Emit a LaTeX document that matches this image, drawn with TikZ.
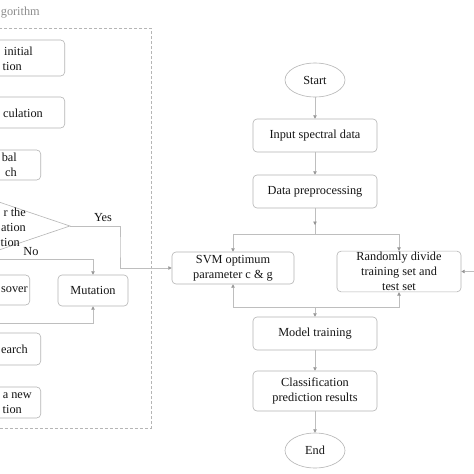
\documentclass[tikz,border=0pt]{standalone}
\usepackage{fontspec}
\setmainfont{Liberation Serif}
\usepackage{xcolor}
\definecolor{ink}      {HTML}{141414}
\definecolor{boxGray}  {HTML}{B5B5B5}
\definecolor{lineGray} {HTML}{BEBEBE}
\definecolor{tipGray}  {HTML}{969696}
\definecolor{titleGray}{HTML}{8C8C8C}
\usetikzlibrary{arrows.meta, shapes.geometric}
\newcommand{\boxfont}{\fontsize{12.3}{15}\selectfont}
\tikzset{
    procbox/.style={rectangle, draw=boxGray, line width=0.6pt, rounded corners=4pt,
                    minimum width=124pt, minimum height=33pt, inner sep=1pt,
                    align=center, font=\boxfont, text=ink},
    cutbox/.style={rectangle, draw=boxGray, line width=0.6pt, rounded corners=4pt,
                   anchor=east, minimum width=120pt, inner sep=0pt},
    cuttext/.style={anchor=east, align=right, inner sep=0pt, font=\boxfont, text=ink},
    terminal/.style={ellipse, draw=boxGray, line width=0.6pt, minimum width=60pt,
                     minimum height=34pt, inner sep=0pt, font=\boxfont, text=ink},
    decision/.style={diamond, draw=boxGray, line width=0.6pt, minimum width=180pt,
                     minimum height=61pt, inner sep=0pt},
    tag/.style={inner sep=0pt, font=\boxfont, text=ink},
    flow/.style={draw=lineGray, line width=0.6pt},
    arr/.style={flow, -{Triangle[length=3.4pt, width=3.4pt, color=tipGray]}},
    algframe/.style={draw=boxGray, line width=0.6pt, dash pattern=on 2.6pt off 2.4pt},
}

\begin{document}
\begin{tikzpicture}[x=1pt, y=-1pt]
    \clip (0,0) rectangle (474,474);
    \fill[white] (0,0) rectangle (474,474);

    % left part: the algorithm, cut at the page edge
    \node[inner sep=0pt, anchor=east, font=\boxfont, text=titleGray] (algTitle) at (40,13) {gorithm};
    \draw[algframe] (-5,28) rectangle (151,428);

    \node[cutbox, minimum height=36pt] (init) at (65,58) {};
    \node[cuttext] (initText) at (33,58.5) {initial\\tion\hspace*{11pt}};
    \node[cutbox, minimum height=31pt] (fit) at (65,112.5) {};
    \node[cuttext] (fitText) at (43,113) {culation};
    \node[cutbox, minimum height=30pt] (glob) at (41,165) {};
    \node[cuttext] (globText) at (17,164.5) {bal\\ch};
    \node[decision] (dia) at (-20,226) {};
    \node[cuttext] (diaText) at (26,227) {r the\\ation\\tion\hspace*{6pt}};
    \node[cutbox, minimum height=30pt] (cross) at (30,290) {};
    \node[cuttext] (crossText) at (28,290) {sover};
    \node[procbox, minimum width=70pt, minimum height=31pt] (mut) at (93,290.5) {Mutation};
    \node[cutbox, minimum height=32pt] (loc) at (41,349) {};
    \node[cuttext] (locText) at (28,349) {earch};
    \node[cutbox, minimum height=31pt] (newpop) at (41,402.5) {};
    \node[cuttext] (newpopText) at (32,403.5) {a new\\tion\hspace*{10pt}};

    \node[tag] (yes) at (103,218) {Yes};
    \node[tag] (no)  at (31,252) {No};
    \coordinate (yesTurn) at (120,247);
    \coordinate (noTurn)  at (93,259);
    \coordinate (mutFeed) at (-10,323);

    % right part: the SVM flow
    \node[terminal] (start) at (315,80) {Start};
    \node[procbox] (input) at (315,135.5) {Input spectral data};
    \node[procbox] (prep)  at (315,191.5) {Data preprocessing};
    \node[procbox, minimum width=122pt, minimum height=32pt] (svm) at (233,268)
        {SVM optimum\\parameter c \& g};
    \node[procbox, minimum width=124pt, minimum height=39pt] (split) at (399,271.5)
        {Randomly divide\\training set and\\test set};
    \node[procbox] (train) at (315,333.5) {Model training};
    \node[procbox, minimum height=40pt] (result) at (315,391)
        {Classification\\prediction results};
    \node[terminal, minimum height=35pt] (end) at (315,450.5) {End};

    \coordinate (fork)     at (315,234);
    \coordinate (join)     at (315,307);
    \coordinate (splitFeed) at (480,271.5);

    \draw[arr] (dia.east) -| (yesTurn) |- (svm.west);
    \draw[arr] (dia.south) |- (noTurn) -- (mut.north);
    \draw[arr] (mutFeed) -| (mut.south);

    \draw[arr] (start) -- (input);
    \draw[arr] (input) -- (prep);
    \draw[flow] (prep) -- (fork);
    \draw[arr, shorten >=9pt] (prep) -- (fork);
    \draw[arr] (fork) -| (svm.north);
    \draw[arr] (fork) -| (split.north);
    \draw[arr] (join) -| (svm.south);
    \draw[arr] (join) -| (split.south);
    \draw[arr] (join) -- (train);
    \draw[arr] (splitFeed) -- (split.east);
    \draw[arr] (train) -- (result);
    \draw[arr] (result) -- (end);
\end{tikzpicture}
\end{document}
